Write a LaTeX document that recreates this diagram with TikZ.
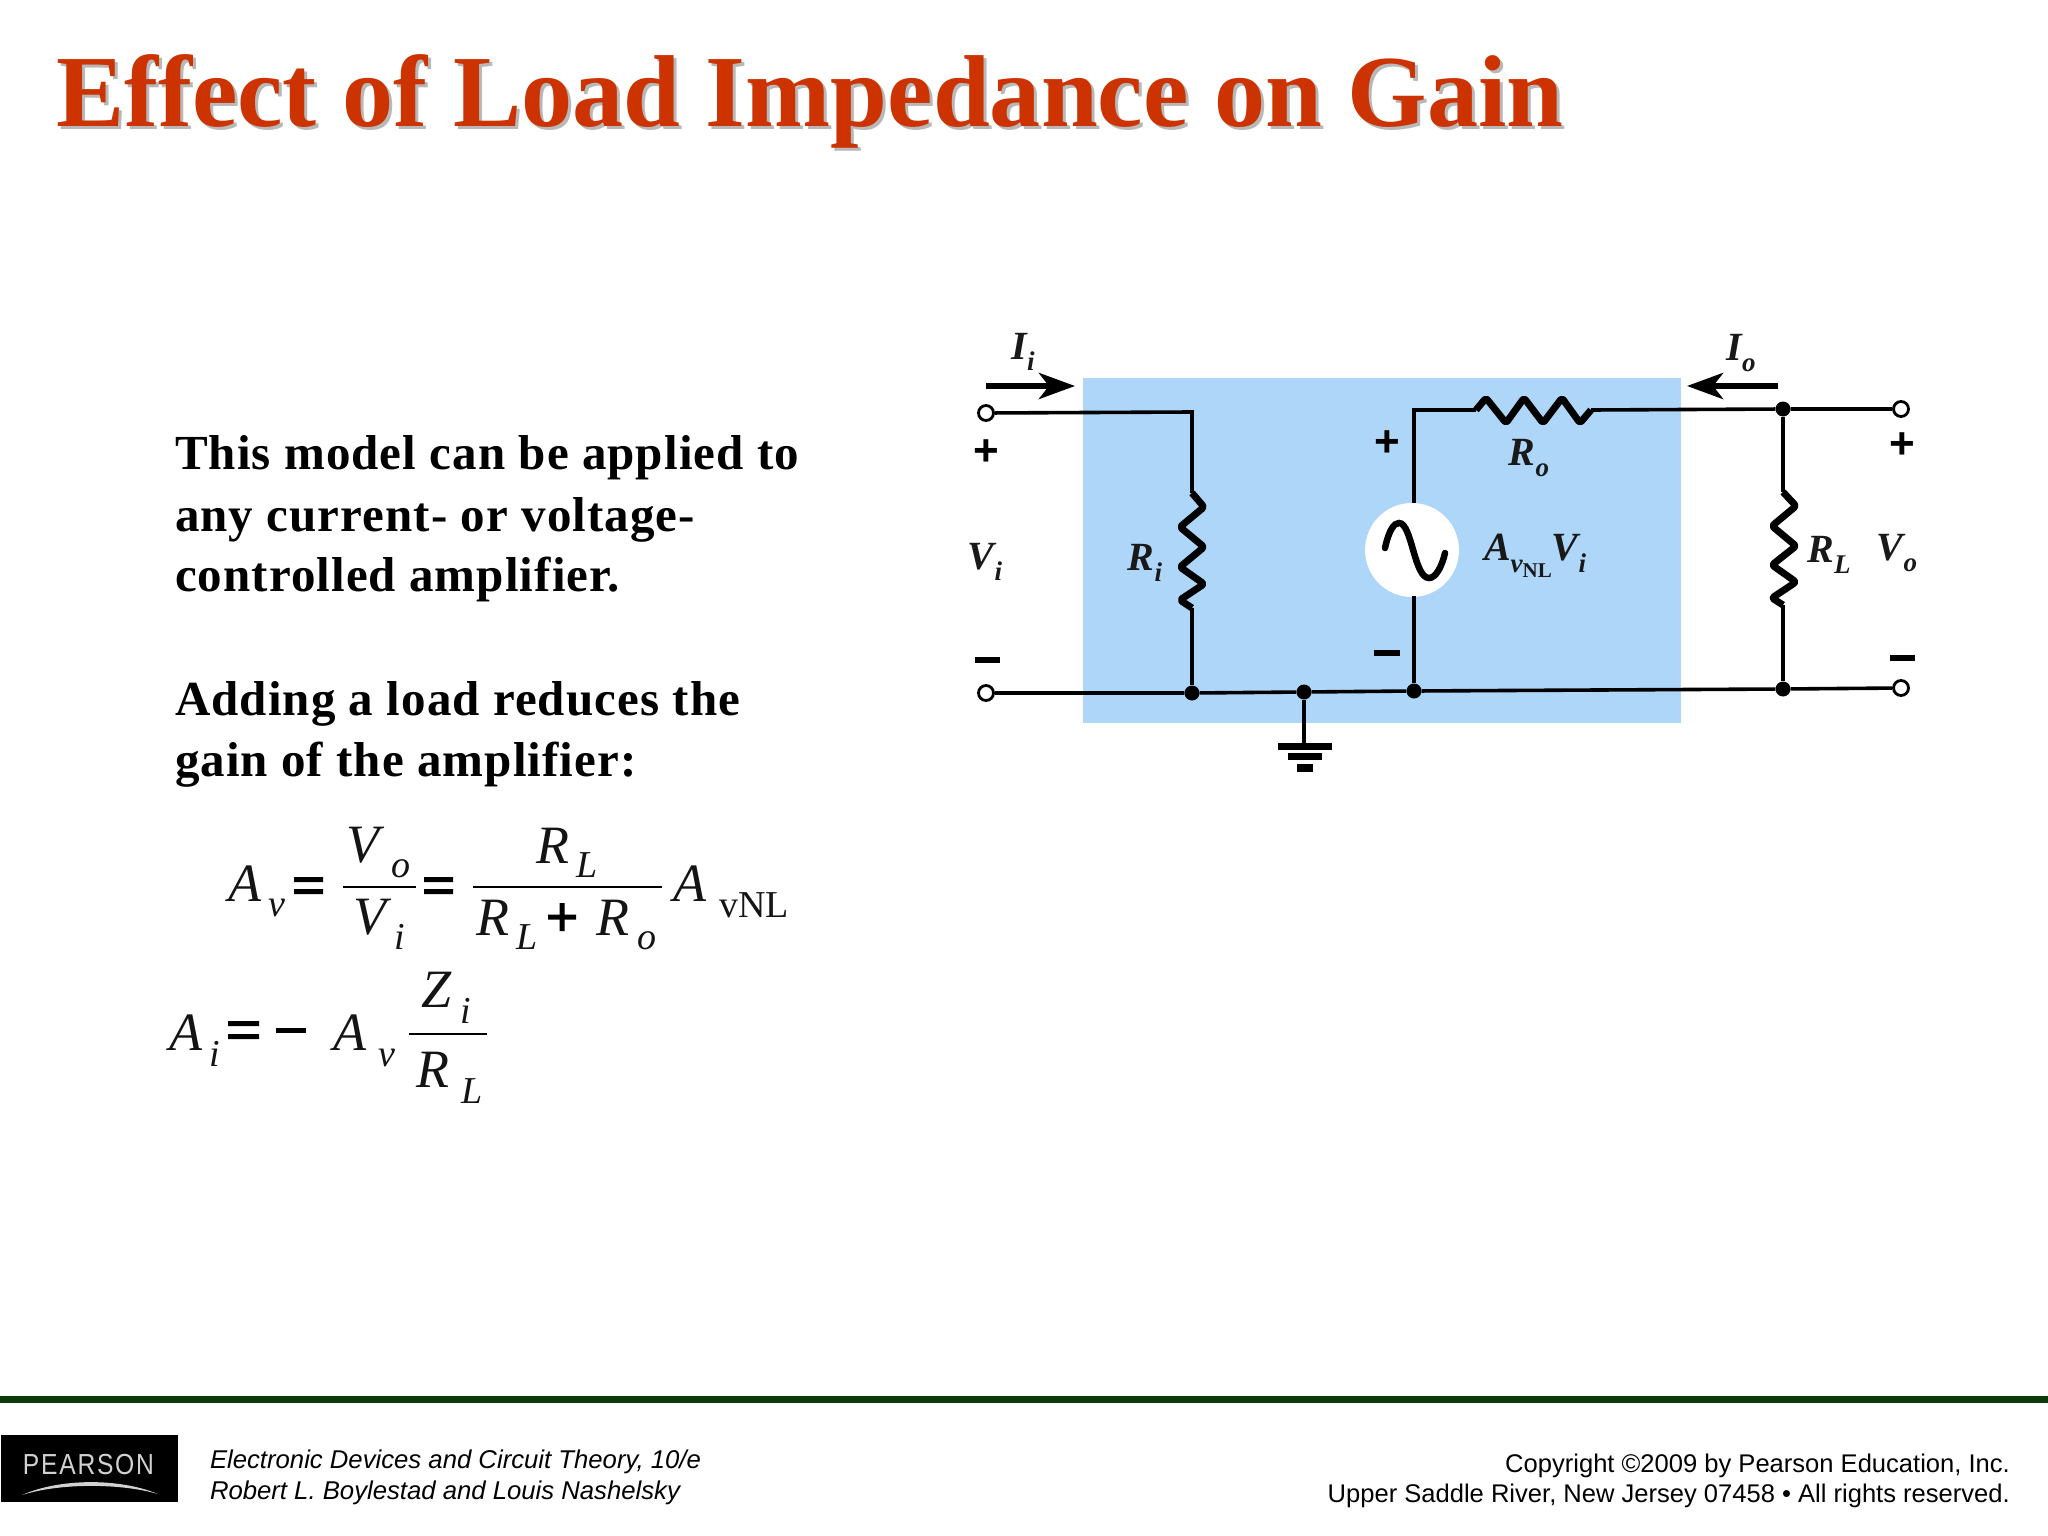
\documentclass[tikz,border=0pt]{standalone}
\usepackage{fontspec}
\setmainfont{Liberation Serif}
\setsansfont{Liberation Sans}
\usetikzlibrary{arrows.meta,calc}
\definecolor{titlecol}{HTML}{CC3300}
\definecolor{bluebox}{HTML}{AED6F8}
\definecolor{footgreen}{HTML}{0C3A0C}
\newcommand{\lowsub}[1]{\raisebox{-0.28em}{\fontsize{27}{27}\selectfont #1}}
\tikzset{
  x=1pt,y=-1pt,
  txt/.style={anchor=base west,inner sep=0pt,outer sep=0pt},
  titletext/.style={txt,font=\fontsize{102.2}{103}\selectfont\bfseries},
  bodytext/.style={txt,font=\fontsize{49}{49}\selectfont\bfseries\addfontfeature{LetterSpace=2.2},text=black},
  eqbig/.style={txt,font=\fontsize{54}{54}\selectfont\itshape,text=black!92},
  eqsmall/.style={txt,font=\fontsize{38}{38}\selectfont\itshape,text=black!92},
  equp/.style={txt,font=\fontsize{38}{38}\selectfont,text=black!92},
  eqrule/.style={line width=2.8pt,black},
  eqbar/.style={fill=black,draw=none},
  footit/.style={txt,font=\fontsize{25.7}{26}\selectfont\sffamily\itshape},
  footrm/.style={anchor=base east,inner sep=0pt,font=\fontsize{25.55}{26}\selectfont\sffamily},
  wire/.style={line width=3.6pt,black},
  resistor/.style={line width=7pt,black,rounded corners=2.5pt,line join=round},
  term/.style={circle,draw=black,fill=white,line width=2.8pt,minimum size=15pt,inner sep=0pt},
  junc/.style={circle,fill=black,minimum size=15pt,inner sep=0pt},
  curarrow/.style={line width=6pt,-{Stealth[length=36pt,width=26pt,inset=10pt]}},
  clabel/.style={inner sep=0pt,font=\fontsize{40}{40}\selectfont\bfseries\itshape,text=black!90},
  sign/.style={inner sep=0pt,font=\fontsize{44}{44}\selectfont\bfseries\sffamily},
  gbar/.style={fill=black,draw=none},
}
\begin{document}
\begin{tikzpicture}
\useasboundingbox (0,0) rectangle (2048,1536);
\fill[white] (0,0) rectangle (2048,1536);
% title
\node[titletext,text=black!28] (titleshadow) at (59,130) {Effect of Load Impedance on Gain};
\node[titletext,text=titlecol] (title) at (56,127) {Effect of Load Impedance on Gain};
% body
\node[bodytext] (b1) at (175,469) {This model can be applied to};
\node[bodytext] (b2) at (175,531) {any current- or voltage-};
\node[bodytext] (b3) at (175,591) {controlled amplifier.};
\node[bodytext] (b4) at (175,715) {Adding a load reduces the};
\node[bodytext] (b5) at (175,776) {gain of the amplifier:};
% equation 1
\node[eqbig] (a1) at (228,901) {A};
\node[eqsmall] (a1s) at (268,916) {v};
\fill[eqbar] (294,877) rectangle (323,882) (294,889) rectangle (323,894);
\node[eqbig] (v1) at (346,862) {V};
\node[eqsmall] (v1s) at (391,877) {o};
\draw[eqrule] (343,887) -- (416,887);
\node[eqbig] (v2) at (353,934) {V};
\node[eqsmall] (v2s) at (394,949) {i};
\fill[eqbar] (424,877) rectangle (453,882) (424,889) rectangle (453,894);
\node[eqbig] (r1) at (536,863) {R};
\node[eqsmall] (r1s) at (576,877) {L};
\draw[eqrule] (473,887) -- (662,887);
\node[eqbig] (r2) at (476,935) {R};
\node[eqsmall] (r2s) at (516,949) {L};
\fill[eqbar] (548,914.5) rectangle (576,919.5) (559.5,903) rectangle (564.5,931);
\node[eqbig] (r3) at (596,935) {R};
\node[eqsmall] (r3s) at (637,949) {o};
\node[eqbig] (a2) at (673,901) {A};
\node[equp] (a2s) at (719,917) {vNL};
% equation 2
\node[eqbig] (a3) at (169,1050) {A};
\node[eqsmall] (a3s) at (209,1066) {i};
\fill[eqbar] (228,1021) rectangle (259,1026) (228,1034) rectangle (259,1039);
\fill[eqbar] (276,1028) rectangle (306,1033);
\node[eqbig] (a4) at (333,1050) {A};
\node[eqsmall] (a4s) at (378,1066) {v};
\node[eqbig] (z) at (421,1007) {Z};
\node[eqsmall] (zs) at (460,1023) {i};
\draw[eqrule] (409,1034) -- (487,1034);
\node[eqbig] (r4) at (416,1087) {R};
\node[eqsmall] (r4s) at (461,1103) {L};
% circuit
\fill[bluebox] (1083,378) rectangle (1681,723);
\node[term] (inT) at (986,413) {};
\node[term] (inB) at (986,693) {};
\node[term] (outT) at (1901,409) {};
\node[term] (outB) at (1901,688) {};
\coordinate (riCorner) at (1192,412);
\coordinate (riTop) at (1192,493);
\coordinate (riBot) at (1192,608);
\coordinate (rlTop) at (1783,492);
\coordinate (rlBot) at (1783,605);
\coordinate (roL) at (1476,410);
\coordinate (roR) at (1591,410);
\coordinate (srcCorner) at (1414,410);
\coordinate (gndEnd) at (1304,745);
\coordinate (iiS) at (986,386);
\coordinate (iiE) at (1075,386);
\coordinate (ioS) at (1778,386);
\coordinate (ioE) at (1687,386);
\node[circle,fill=white,minimum width=94pt,inner sep=0pt] (src) at (1412,550) {};
\node[junc] (jRi) at (1192,693) {};
\node[junc] (jG) at (1304,692) {};
\node[junc] (jS) at (1414,691) {};
\node[junc] (jRL) at (1783,689) {};
\node[junc] (jTop) at (1783,409) {};
\draw[wire] (inT) -- (riCorner) -- (riTop);
\draw[wire] (riBot) -- (jRi);
\draw[wire] (inB) -- (jRi) -- (jG) -- (jS) -- (jRL) -- (outB);
\draw[wire] (jG) -- (gndEnd);
\draw[wire] (jS) -- (1414,596);
\draw[wire] (1414,503) -- (srcCorner) -- (roL);
\draw[wire] (roR) -- (jTop) -- (outT);
\draw[wire] (jTop) -- (rlTop);
\draw[wire] (rlBot) -- (jRL);
\draw[resistor] (riTop) -- (1204,507) -- (1180,527) -- (1204,547) -- (1180,567) -- (1204,584) -- (1180,600) -- (riBot);
\draw[resistor] (rlTop) -- (1796,506) -- (1772,526) -- (1796,546) -- (1772,565) -- (1796,582) -- (1772,598) -- (rlBot);
\draw[resistor] (roL) -- (1486,398) -- (1506,423) -- (1524,398) -- (1543,423) -- (1562,398) -- (1580,423) -- (roR);
\draw[line width=6.5pt,line cap=round] (1385,548) .. controls (1389,530) and (1394,523) .. (1399,523)
  .. controls (1412,523) and (1414,578) .. (1429,578) .. controls (1436,578) and (1442,566) .. (1445,553);
\fill[gbar] (1278,743) rectangle (1332,750);
\fill[gbar] (1288,753) rectangle (1322,760);
\fill[gbar] (1297,764) rectangle (1313,772);
\draw[curarrow] (iiS) -- (iiE);
\draw[curarrow] (ioS) -- (ioE);
% circuit labels
\node[clabel] (lIi) at (1023,352) {I\lowsub{i}};
\node[clabel] (lIo) at (1741,353) {I\lowsub{o}};
\node[clabel] (lVi) at (985,562) {V\lowsub{i}};
\node[clabel] (lRi) at (1145,563) {R\lowsub{i}};
\node[clabel] (lRo) at (1529,458) {R\lowsub{o}};
\node[clabel] (lAv) at (1535,556) {A\lowsub{\textit{v}\raisebox{-0.2em}{\fontsize{21}{21}\selectfont\upshape NL}}V\lowsub{i}};
\node[clabel] (lRL) at (1829,555) {R\lowsub{L}};
\node[clabel] (lVo) at (1897,553) {V\lowsub{o}};
\node[sign] (p1) at (986,453) {+};
\node[sign] (p2) at (1387,444) {+};
\node[sign] (p3) at (1902,446) {+};
\fill[gbar] (975,657) rectangle (1000,663);
\fill[gbar] (1374,650) rectangle (1400,656);
\fill[gbar] (1890,655) rectangle (1915,661);
% footer
\fill[footgreen] (0,1396) rectangle (2048,1403);
\fill[black] (1,1435) rectangle (178,1502);
\node[txt,text=black!18,font=\fontsize{29}{29}\selectfont\sffamily\addfontfeature{FakeStretch=0.85,LetterSpace=6}] (logo) at (23,1474) {PEARSON};
\fill[black!18] (22,1495) .. controls (60,1478) and (120,1478) .. (158,1494) .. controls (120,1483) and (60,1483) .. (22,1495);
\node[footit] (f1) at (210,1468) {Electronic Devices and Circuit Theory, 10/e};
\node[footit] (f2) at (210,1499) {Robert L. Boylestad and Louis Nashelsky};
\node[footrm] (f3) at (2010,1472) {Copyright ©2009 by Pearson Education, Inc.};
\node[footrm] (f4) at (2010,1502) {Upper Saddle River, New Jersey 07458 • All rights reserved.};
\end{tikzpicture}
\end{document}
